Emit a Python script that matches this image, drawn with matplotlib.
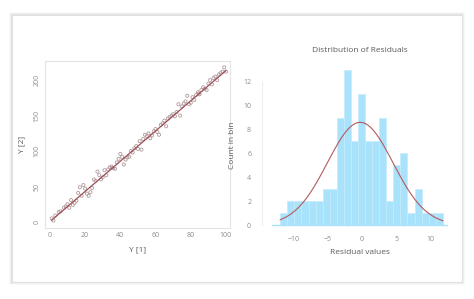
import numpy as np
import matplotlib
matplotlib.use("Agg")
import matplotlib.pyplot as plt
from matplotlib.patches import Rectangle

plt.rcParams['font.family'] = ['Open Sans', 'DejaVu Sans']

# ---- data: scatter Y[1] vs Y[2] ----
y1 = [1, 2, 3, 5, 6, 8, 9, 10, 11, 12, 13, 14, 15, 16, 17, 18, 19, 20, 21, 22,
      23, 24, 25, 26, 27, 28, 29, 30, 31, 32, 33, 34, 35, 35.5, 36, 37, 38, 39, 40, 41,
      42, 43, 44, 45, 46, 47, 48, 49, 50, 51, 52, 53, 54, 55, 56, 57, 58, 59, 60, 61,
      62, 63, 64, 65, 66, 67, 68, 69, 70, 71, 72, 73, 74, 75, 76, 77, 78, 79, 80, 81,
      82, 83, 84, 84.5, 85, 86, 87, 88, 89, 90, 91, 92, 93, 94, 95, 96, 97, 98, 99, 100]
y2 = [5, 2, 9, 14, 15, 20, 22, 25, 20, 31, 24, 27, 30, 41, 49, 37, 52, 47, 40, 37,
      42, 48, 60, 58, 71, 66, 60, 63, 73, 66, 74, 77, 78, 76, 76, 75, 84, 89, 96, 92,
      81, 88, 91, 92, 100, 98, 104, 107, 103, 114, 102, 117, 123, 121, 125, 118, 122, 128, 131, 127,
      123, 137, 139, 143, 135, 146, 148, 150, 152, 149, 155, 166, 150, 163, 167, 170, 178, 166, 168, 176,
      172, 179, 183, 181, 180, 186, 190, 188, 186, 195, 200, 194, 203, 205, 200, 208, 210, 212, 218, 212]
fit_x = [1, 100]
fit_y = [2.6, 213.5]
x_ticks = [0, 20, 40, 60, 80, 100]
y_ticks = [0, 50, 100, 150, 200]

# ---- data: residual histogram ----
bin_start = -11.9
bin_width = 1.03
counts = [1, 2, 2, 2, 2, 2, 3, 3, 9, 13, 7, 11, 7, 7, 9, 2, 5, 6, 1, 3, 1, 1, 1]
resid_mean = -0.25
resid_sd = 4.78
n_obs = 100
h_xticks = [-10, -5, 0, 5, 10]
h_yticks = [0, 2, 4, 6, 8, 10, 12]

W, H = 474, 299
fig = plt.figure(figsize=(W / 100, H / 100), dpi=100)
fig.patch.set_facecolor('white')

def fr(x0, y0, x1, y1_):
    return (x0 / W, 1 - y1_ / H, (x1 - x0) / W, (y1_ - y0) / H)

# card shadow + card
for d, a in [(3, 0.025), (2, 0.035), (1, 0.05)]:
    l, b, w, h = fr(12 - d, 15 - d, 462 + d, 282 + d)
    fig.patches.append(Rectangle((l, b), w, h, transform=fig.transFigure,
                                 facecolor='black', alpha=a, edgecolor='none', zorder=0))
l, b, w, h = fr(12, 15, 462, 282)
fig.patches.append(Rectangle((l, b), w, h, transform=fig.transFigure,
                             facecolor='white', edgecolor='#e0e0e0', linewidth=0.8, zorder=1))

text_c = '#5a5a5a'
tick_c = '#8c8c8c'

# ---- left scatter ----
ax1 = fig.add_axes(fr(45, 61, 230, 228))
ax1.set_zorder(2)
ax1.scatter(y1, y2, s=5, facecolors='none', edgecolors='#b09a9c', linewidths=0.6, zorder=2)
ax1.plot(fit_x, fit_y, color='#9e4f57', linewidth=0.9, zorder=3)
ax1.set_xlim(-2.8, 102.3)
ax1.set_ylim(-8.5, 227)
ax1.set_xticks(x_ticks)
ax1.set_yticks(y_ticks)
ax1.tick_params(length=0, labelsize=5, colors=tick_c)
ax1.tick_params(axis='x', pad=3)
ax1.tick_params(axis='y', pad=3.5)
for t in ax1.get_yticklabels():
    t.set_rotation(90)
    t.set_va('center')
for s in ax1.spines.values():
    s.set_color('#e4e4e4')
    s.set_linewidth(0.8)
ax1.set_xlabel('Y [1]', fontsize=6, color=text_c, labelpad=5)
ax1.set_ylabel('Y [2]', fontsize=6, color=text_c, labelpad=6)

# ---- right histogram ----
ax2 = fig.add_axes(fr(272, 65, 447, 225))
ax2.set_zorder(2)
edges = bin_start + bin_width * np.arange(len(counts) + 1)
ax2.bar(edges[:-1], counts, width=bin_width, align='edge', color='#a9e2fb',
        edgecolor='#c4ebfc', linewidth=0.5, zorder=2)
xs = np.linspace(edges[0], edges[-1], 200)
pdf = n_obs * bin_width / (resid_sd * np.sqrt(2 * np.pi)) * np.exp(-0.5 * ((xs - resid_mean) / resid_sd) ** 2)
ax2.plot(xs, pdf, color='#b45a5c', linewidth=0.8, zorder=3)
ax2.set_xlim(-13.1, 12.4)
ax2.set_ylim(0, 13.4)
ax2.set_xticks(h_xticks)
ax2.set_yticks(h_yticks)
ax2.tick_params(length=0, labelsize=5, colors=tick_c)
ax2.tick_params(axis='x', pad=8)
ax2.tick_params(axis='y', pad=8)
for t in ax2.get_yticklabels():
    t.set_rotation(90)
    t.set_va('center')
for k in ['top', 'right']:
    ax2.spines[k].set_visible(False)
ax2.spines['bottom'].set_color('#a9e2fb')
ax2.spines['bottom'].set_linewidth(1.0)
ax2.spines['left'].set_position(('outward', 7))
ax2.spines['left'].set_bounds(0, 12)
ax2.spines['left'].set_color('#eeeeee')
ax2.spines['left'].set_linewidth(0.8)
ax2.set_xlabel('Residual values', fontsize=6, color=text_c, labelpad=4)
ax2.set_ylabel('Count in bin', fontsize=6, color=text_c, labelpad=5)
ax2.set_title('Distribution of Residuals', fontsize=6, color=text_c, pad=9)

fig.savefig('out.png', dpi=100)
